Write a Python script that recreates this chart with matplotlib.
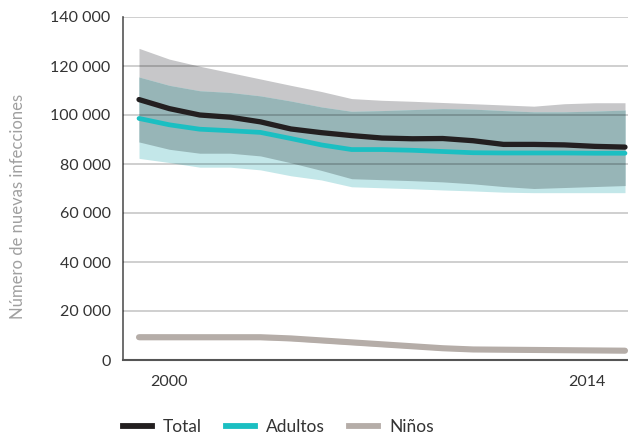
import numpy as np
import matplotlib.pyplot as plt
from matplotlib.lines import Line2D
from matplotlib.transforms import ScaledTranslation

plt.rcParams['font.family'] = ['Lato', 'DejaVu Sans']

years = np.arange(1999, 2016)

total = [106300, 102600, 100000, 99100, 97200, 94300, 92800, 91600, 90600,
         90300, 90400, 89500, 88000, 88000, 87800, 87200, 86900]
total_hi = [127200, 122800, 119900, 117300, 114700, 112100, 109600, 106700, 106000,
            105600, 105100, 104600, 104100, 103600, 104600, 105000, 105000]
total_lo = [89000, 86000, 84400, 84400, 83300, 80500, 77400, 74000, 73600,
            73200, 72700, 71900, 70800, 70000, 70400, 70800, 71200]

adultos = [98600, 96000, 94200, 93600, 92900, 90400, 87800, 85900, 85900,
           85600, 85100, 84600, 84500, 84500, 84500, 84400, 84400]
adultos_hi = [115500, 112100, 109900, 109200, 107800, 105700, 103300, 101500, 101800,
              102200, 102600, 102400, 101800, 101300, 101300, 101600, 102000]
adultos_lo = [82300, 80600, 78700, 78700, 77600, 75200, 73500, 70700, 70300,
              69900, 69400, 69000, 68500, 68300, 68300, 68300, 68300]

ninos = [9300, 9300, 9300, 9300, 9300, 8800, 8000, 7200, 6400,
         5600, 4800, 4300, 4200, 4100, 4000, 3900, 3800]
ninos_hi = [10600, 10500, 10400, 10300, 10200, 9800, 9000, 8200, 7400,
            6600, 5800, 5200, 5100, 5000, 4900, 4800, 4700]
ninos_lo = [8300, 8300, 8300, 8300, 8300, 7900, 7100, 6300, 5500,
            4800, 4000, 3500, 3400, 3300, 3200, 3100, 3000]

yticks = [0, 20000, 40000, 60000, 80000, 100000, 120000, 140000]
xticks = [2000, 2014]

c_total = '#231f20'
c_adult = '#1bbfc2'
c_nino = '#b5ada8'

fig = plt.figure(figsize=(6.28, 4.36), dpi=100)
ax = fig.add_axes([123 / 628, 76 / 436, 505 / 628, 343 / 436])

t_hi, t_lo = np.array(total_hi), np.array(total_lo)
a_hi, a_lo = np.array(adultos_hi), np.array(adultos_lo)
ax.fill_between(years, t_lo, t_hi, color='#c7c7c9', lw=0, zorder=1)
ax.fill_between(years, a_lo, a_hi, color='#c3e7e9', lw=0, zorder=1)
ax.fill_between(years, np.maximum(t_lo, a_lo), np.minimum(t_hi, a_hi),
                color='#97b5b7', lw=0, zorder=2)
ax.fill_between(years, ninos_lo, ninos_hi, color='#dcd6d2', lw=0, zorder=2)

for v in yticks[1:]:
    ax.axhline(v, color='black', alpha=0.22, lw=1.2, zorder=3)

ax.plot(years, total, color=c_total, lw=3.8, solid_capstyle='round', zorder=5)
ax.plot(years, adultos, color=c_adult, lw=3.4, solid_capstyle='round', zorder=4)
ax.plot(years, ninos, color=c_nino, lw=4.4, solid_capstyle='round', zorder=4)

ax.set_xlim(1999 - 16 / 30.375, 2015 + 3 / 30.375)
ax.set_ylim(0, 140000)
ax.set_yticks(yticks)
ax.set_yticklabels([f'{v:,}'.replace(',', ' ') for v in yticks])
ax.set_xticks(xticks)
ax.set_xticklabels([str(x) for x in xticks])
ax.tick_params(axis='y', length=0, pad=9, labelsize=11.5, labelcolor='#333333')
ax.tick_params(axis='x', length=0, pad=11, labelsize=11.5, labelcolor='#333333')

# the source places the 2014 label a little left of its year
shift = ScaledTranslation(-8 / 100, 0, fig.dpi_scale_trans)
lab = ax.get_xticklabels()[1]
lab.set_transform(lab.get_transform() + shift)

for s in ['top', 'right']:
    ax.spines[s].set_visible(False)
ax.spines['left'].set_color('#555555')
ax.spines['bottom'].set_color('#555555')
ax.spines['left'].set_linewidth(1.2)
ax.spines['bottom'].set_linewidth(1.5)

fig.text(18 / 628, 1 - 206 / 436, 'Número de nuevas infecciones', rotation=90,
         ha='center', va='center', color='#a0a0a0', fontsize=12)

handles = [Line2D([], [], color=c_total, lw=4.2),
           Line2D([], [], color=c_adult, lw=4.2),
           Line2D([], [], color=c_nino, lw=4.2)]
fig.legend(handles, ['Total', 'Adultos', 'Niños'], loc='center left',
           bbox_to_anchor=(107 / 628, 1 - 427 / 436), ncol=3, frameon=False,
           fontsize=12.5, handlelength=1.7, handletextpad=0.6, columnspacing=1.4,
           labelcolor='#333333')

fig.savefig('out.png', dpi=100)
